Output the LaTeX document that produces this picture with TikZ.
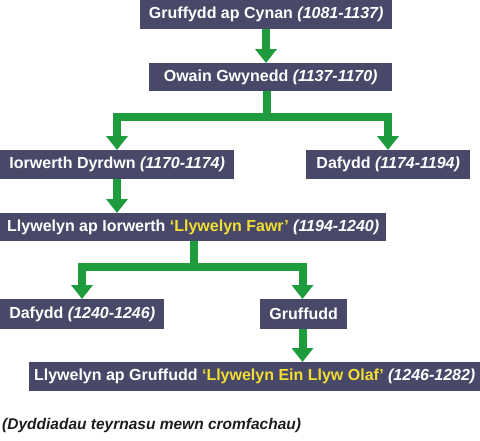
\documentclass[tikz,border=0pt]{standalone}
\usepackage{fontspec}
\setmainfont{Liberation Sans}
\usetikzlibrary{arrows.meta}
\definecolor{boxc}{RGB}{72,72,104}
\definecolor{grn}{RGB}{30,155,60}
\definecolor{yel}{RGB}{242,222,52}
\definecolor{capc}{RGB}{30,30,30}
\begin{document}
\begin{tikzpicture}[x=1pt,y=-1pt,
  box/.style={fill=boxc,text=white,inner sep=0pt,anchor=north west,
    font=\fontsize{16}{18}\selectfont\bfseries},
  conn/.style={draw=grn,line width=8pt,line join=miter},
  arr/.style={conn,-{Triangle[width=21pt 0,length=14pt 0]}},
  arrb/.style={conn,{Triangle[width=21pt 0,length=14pt 0]}-{Triangle[width=21pt 0,length=14pt 0]}}]
\fill[white] (0,0) rectangle (480,440);
\useasboundingbox (0,0) rectangle (480,440);
\node[box,minimum width=252pt,minimum height=29pt] (b1) at (140,0) {Gruffydd ap Cynan \textit{(1081-1137)}};
\node[box,minimum width=243pt,minimum height=28pt] (b2) at (149,63) {Owain Gwynedd \textit{(1137-1170)}};
\node[box,minimum width=234pt,minimum height=29pt] (b3) at (0,150) {Iorwerth Dyrdwn \textit{(1170-1174)}};
\node[box,minimum width=164pt,minimum height=29pt] (b4) at (306,150) {Dafydd \textit{(1174-1194)}};
\node[box,minimum width=386pt,minimum height=28pt] (b5) at (0,213) {Llywelyn ap Iorwerth \textcolor{yel}{‘Llywelyn Fawr’} \textit{(1194-1240)}};
\node[box,minimum width=164pt,minimum height=30pt] (b6) at (0,299) {Dafydd \textit{(1240-1246)}};
\node[box,minimum width=87pt,minimum height=30pt] (b7) at (260,299) {Gruffudd};
\node[box,minimum width=451pt,minimum height=29pt] (b8) at (29,362) {Llywelyn ap Gruffudd \textcolor{yel}{‘Llywelyn Ein Llyw Olaf’} \textit{(1246-1282)}};
\node[anchor=west,inner sep=0pt,text=capc,font=\fontsize{15.5}{18}\selectfont\bfseries\itshape] (cap) at (2,425) {(Dyddiadau teyrnasu mewn cromfachau)};
% connector columns
\coordinate (x1) at (266,0);
\coordinate (t1) at (267,116.5);
\coordinate (L1) at (117,0);
\coordinate (R1) at (388,0);
\coordinate (t2) at (193.5,266.5);
\coordinate (L2) at (82,0);
\coordinate (R2) at (302.5,0);
\draw[arr] (b1.south -| x1) -- (b2.north -| x1);
\draw[conn] (b2.south -| t1) -- (t1);
\draw[arrb] (b3.north -| L1) |- (t1) -| (b4.north -| R1);
\draw[arr] (b3.south -| L1) -- (b5.north -| L1);
\draw[conn] (b5.south -| t2) -- (t2);
\draw[arrb] (b6.north -| L2) |- (t2) -| (b7.north -| R2);
\draw[arr] (b7.south -| R2) -- (b8.north -| R2);
\end{tikzpicture}
\end{document}
